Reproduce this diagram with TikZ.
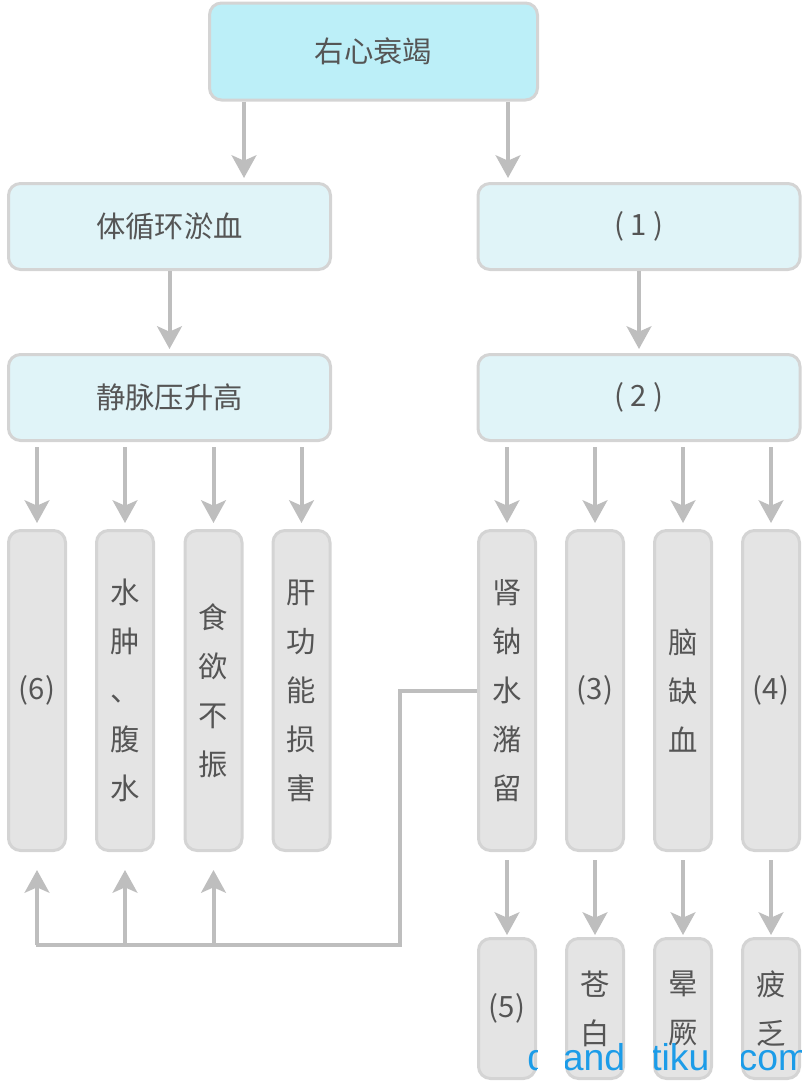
\documentclass[tikz,border=0pt]{standalone}
\usepackage{fontspec}
\setmainfont{Noto Sans CJK SC}
\newfontfamily\wmfont{Liberation Sans}
\usetikzlibrary{arrows.meta}

\definecolor{topfill}{HTML}{BCEFF8}
\definecolor{midfill}{HTML}{E0F4F8}
\definecolor{greyfill}{HTML}{E4E4E4}
\definecolor{boxline}{HTML}{D4D4D4}
\definecolor{arrowgrey}{HTML}{BEBEBE}
\definecolor{txtgrey}{HTML}{555555}
\definecolor{wmblue}{HTML}{1C9CE8}

\newcommand{\boxfont}{\fontsize{22}{36.75}\selectfont}

\tikzset{
  box/.style={draw=boxline, line width=2.25pt, rounded corners=9pt, text=txtgrey,
              font=\boxfont, inner sep=0pt, align=center},
  headbox/.style={box, fill=topfill, minimum width=246pt, minimum height=72.75pt},
  stagebox/.style={box, fill=midfill, minimum width=241.5pt, minimum height=64.5pt},
  tallbox/.style={box, fill=greyfill, minimum width=42.75pt, minimum height=240pt},
  lowbox/.style={box, fill=greyfill, minimum width=42.75pt, minimum height=105pt},
  mark text/.style={anchor=base west, inner sep=0pt, text=wmblue,
                    font=\wmfont\fontsize{28}{28}\selectfont},
  link/.style={draw=arrowgrey, line width=3pt},
  arr/.style={link, -{Stealth[length=17pt, width=18.5pt, inset=4pt]}}
}

\begin{document}
\begin{tikzpicture}[x=0.75pt, y=-0.75pt]
  \useasboundingbox (0,0) rectangle (807,1082);

  % top and second level
  \node[headbox] (top) at (373.5,51.5) {右心衰竭};
  \node[stagebox] (body) at (169.5,226.5) {体循环淤血};
  \node[stagebox] (q1) at (639,226.5) {( 1 )};
  \node[stagebox] (ven) at (169.5,397.5) {静脉压升高};
  \node[stagebox] (q2) at (639,397.5) {( 2 )};

  % tall boxes
  \node[tallbox] (c6) at (37,690.5) {(6)};
  \node[tallbox] (edema) at (125,690.5) {水\\肿\\、\\腹\\水};
  \node[tallbox] (appetite) at (213.5,690.5) {食\\欲\\不\\振};
  \node[tallbox] (liver) at (301.5,690.5) {肝\\功\\能\\损\\害};
  \node[tallbox] (renal) at (507,690.5) {肾\\钠\\水\\潴\\留};
  \node[tallbox] (c3) at (595,690.5) {(3)};
  \node[tallbox] (brain) at (683,690.5) {脑\\缺\\血};
  \node[tallbox] (c4) at (771,690.5) {(4)};

  % bottom row
  \node[lowbox] (c5) at (507,1008.5) {(5)};
  \node[lowbox] (pale) at (595,1008.5) {苍\\白};
  \node[lowbox] (faint) at (683,1008.5) {晕\\厥};
  \node[lowbox] (tired) at (771,1008.5) {疲\\乏};

  % watermark, only seen inside the bottom boxes
  \begin{scope}
    \clip[rounded corners=9pt] (c5.north west) rectangle (c5.south east)
      (pale.north west) rectangle (pale.south east)
      (faint.north west) rectangle (faint.south east)
      (tired.north west) rectangle (tired.south east);
    \node[mark text] (wm1) at (527,1070) {d};
    \node[mark text] (wm2) at (562.5,1070) {and};
    \node[mark text] (wm3) at (651,1070) {tiku};
    \node[mark text] (wm4) at (728,1070) {.com};
  \end{scope}

  \draw[arr, shorten >=3pt] (top.south -| 244,0) -- (body.north -| 244,0);
  \draw[arr, shorten >=3pt] (top.south -| 508,0) -- (q1.north -| 508,0);
  \draw[arr, shorten >=3pt] (body) -- (ven);
  \draw[arr, shorten >=3pt] (q1) -- (q2);

  \foreach \b in {c6,edema,appetite,liver,renal,c3,brain,c4}
    \draw[arr, shorten <=3.75pt, shorten >=4.5pt] (ven.south -| \b.north) -- (\b.north);
  \foreach \t/\b in {renal/c5,c3/pale,brain/faint,c4/tired}
    \draw[arr, shorten <=6pt, shorten >=1.5pt] (\t) -- (\b);

  % feedback from renal retention
  \coordinate (bend) at (400,945);
  \draw[link] (renal.west) -| (bend) -- (bend -| c6.south) -- ++(-1.5,0);
  \foreach \b in {c6,edema,appetite}
    \draw[arr, shorten >=13.5pt] (bend -| \b.south) -- (\b.south);
\end{tikzpicture}
\end{document}
